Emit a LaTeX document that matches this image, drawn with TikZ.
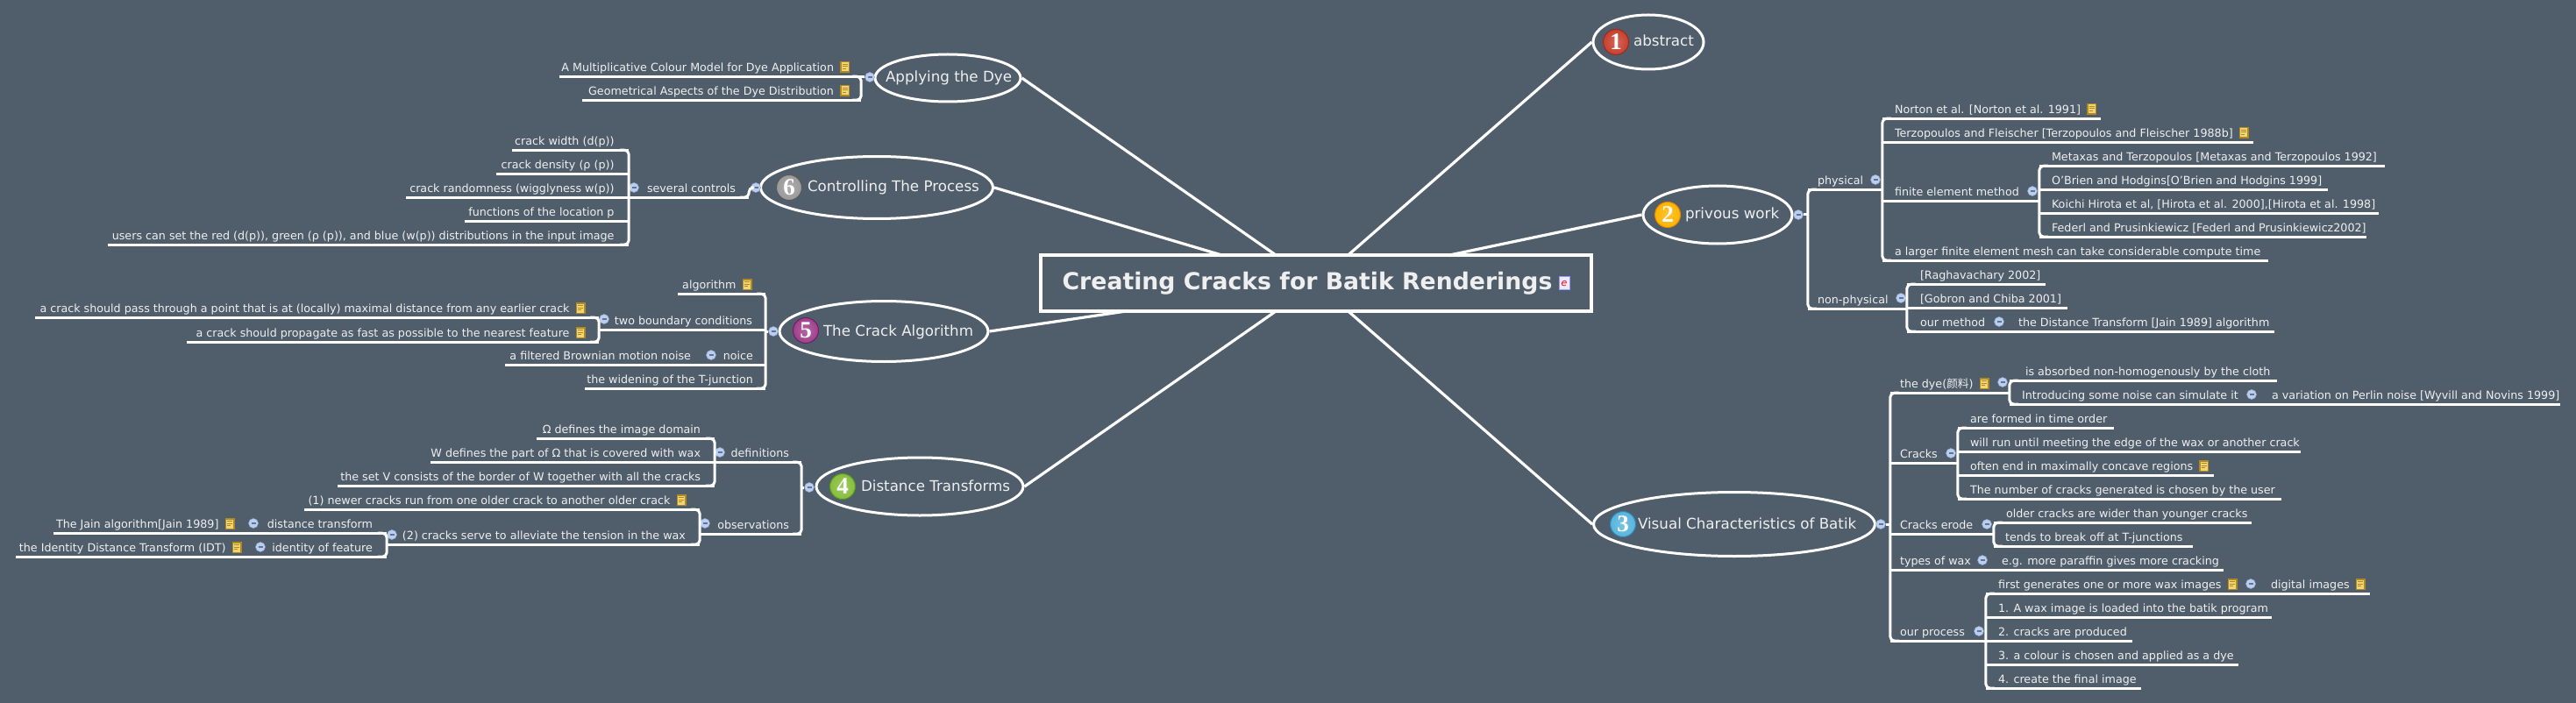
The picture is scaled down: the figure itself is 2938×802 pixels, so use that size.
\documentclass[tikz,border=0pt]{standalone}
\usepackage{fontspec}
\setmainfont{DejaVu Sans}
\newfontfamily\cjk{Noto Sans CJK SC}
\newfontfamily\numf{Liberation Serif}
\usetikzlibrary{shapes.geometric,calc,backgrounds}
\definecolor{bgc}{HTML}{505E6C}
\definecolor{txt}{HTML}{EFEFEF}
\definecolor{nb}{HTML}{B08A20}
\definecolor{ny}{HTML}{F2D675}
\definecolor{tgf}{HTML}{B9CEF2}
\definecolor{tgd}{HTML}{60758F}
\definecolor{ica}{HTML}{C8402F}\definecolor{icaD}{HTML}{9E2A1E}
\definecolor{icb}{HTML}{FFB400}\definecolor{icbD}{HTML}{E88A00}
\definecolor{icc}{HTML}{58B4DC}\definecolor{iccD}{HTML}{2E86B8}
\definecolor{icd}{HTML}{86BE3C}\definecolor{icdD}{HTML}{5A9420}
\definecolor{ice}{HTML}{A0408C}\definecolor{iceD}{HTML}{6E1F60}
\definecolor{icf}{HTML}{9A9A9A}\definecolor{icfD}{HTML}{5A5A5A}
\newcommand\noteic{\hspace{7pt}\raisebox{-1.5pt}{%
\rlap{\textcolor{nb}{\rule{11pt}{13pt}}}%
\rlap{\hspace{1.5pt}\raisebox{1.5pt}{\textcolor{ny}{\rule{8pt}{10pt}}}}%
\rlap{\hspace{2.5pt}\raisebox{9pt}{\textcolor{nb}{\rule{6pt}{1pt}}}}%
\rlap{\hspace{2.5pt}\raisebox{6.5pt}{\textcolor{nb}{\rule{6pt}{1pt}}}}%
\rlap{\hspace{2.5pt}\raisebox{4pt}{\textcolor{nb}{\rule{4pt}{1pt}}}}%
\hspace{11pt}}}
\tikzset{
 x=1pt,y=-1pt,
 tree/.style={draw=white,line width=3pt,line join=round},
 conn/.style={draw=white,line width=3.2pt},
 leaf/.style={inner xsep=0pt,inner ysep=5.5pt,text height=11pt,text depth=0pt,minimum height=22pt,text=txt,font=\fontsize{12.7}{15}\selectfont},
 topic/.style={ellipse,draw=white,line width=3pt,fill=bgc,inner sep=0pt,text=txt,text height=10pt,text depth=0pt,font=\fontsize{16.7}{18}\selectfont},
 numic/.style n args={2}{circle,inner sep=0pt,minimum size=29pt,draw=#2,line width=1pt,inner color=#1!80!white,outer color=#1,text=white,font=\numf\bfseries\fontsize{27}{27}\selectfont},
 tog/.style={circle,fill=tgf,draw=tgf!80!black,line width=.5pt,inner sep=0pt,minimum size=11pt,text=tgd},
 rootbox/.style={rectangle,draw=white,line width=4pt,fill=bgc,inner sep=0pt,minimum width=628pt,minimum height=64pt,text=txt,font=\bfseries\fontsize{26.7}{30}\selectfont},
 docic/.style={rectangle,draw=blue!40!white,fill=white!92!blue,line width=.8pt,inner sep=0pt,minimum width=12pt,minimum height=15pt,text=red,font=\itshape\fontsize{11}{11}\selectfont}
}
\newcommand\lfR[6]{\pgfmathsetmacro\cxx{(#2+#3)/2}\pgfmathsetmacro\www{#3-#2}%
 \node[leaf,minimum width=\www pt] (#1) at (\cxx,#4-11) {\makebox[\www pt][r]{#6\hspace*{#5pt}}};
 \draw[tree] (#1.south west)--(#1.south east);}
\newcommand\lfL[6]{\pgfmathsetmacro\cxx{(#2+#3)/2}\pgfmathsetmacro\www{#3-#2}%
 \node[leaf,minimum width=\www pt] (#1) at (\cxx,#4-11) {\makebox[\www pt][l]{\hspace*{#5pt}#6}};
 \draw[tree] (#1.south west)--(#1.south east);}
\newcommand\brR[2]{\draw[tree,rounded corners=5pt] ($(#1.south west)+(10,0)$)--(#1.south west)--(#2.south west)--($(#2.south west)+(10,0)$);}
\newcommand\brL[2]{\draw[tree,rounded corners=5pt] ($(#1.south east)+(-10,0)$)--(#1.south east)--(#2.south east)--($(#2.south east)+(-10,0)$);}
\newcommand\tgl[3]{\node[tog] (#1) at (#2,#3) {\rule{5pt}{1.2pt}};}
\begin{document}
\begin{tikzpicture}
\useasboundingbox (0,0) rectangle (2938,802);
% root and main topics
\node[rootbox] (root) at (1501,323) {\makebox[0pt]{\hspace{-20pt}Creating Cracks for Batik Renderings}};
\node[docic] (rootic) at (1784,323) {e};
\node[topic,minimum width=126pt,minimum height=62pt] (abstract) at (1880,48) {\makebox[0pt][l]{\hspace*{-17pt}abstract}};
\node[numic={ica}{icaD}] (ic1) at (1843,48) {1};
\node[topic,minimum width=170pt,minimum height=66pt] (privous) at (1959,245) {\makebox[0pt][l]{\hspace*{-37pt}privous work}};
\node[numic={icb}{icbD}] (ic2) at (1902,245) {2};
\node[topic,minimum width=321pt,minimum height=73pt] (visual) at (1978,598) {\makebox[0pt][l]{\hspace*{-110pt}Visual Characteristics of Batik}};
\node[numic={icc}{iccD}] (ic3) at (1851,598) {3};
\node[topic,minimum width=236pt,minimum height=66pt] (distance) at (1049,555) {\makebox[0pt][l]{\hspace*{-67pt}Distance Transforms}};
\node[numic={icd}{icdD}] (ic4) at (961,555) {4};
\node[topic,minimum width=238pt,minimum height=69pt] (crackalg) at (1008,378) {\makebox[0pt][l]{\hspace*{-69pt}The Crack Algorithm}};
\node[numic={ice}{iceD}] (ic5) at (919,377) {5};
\node[topic,minimum width=265pt,minimum height=71pt] (control) at (1000,214) {\makebox[0pt][l]{\hspace*{-79pt}Controlling The Process}};
\node[numic={icf}{icfD}] (ic6) at (900,214) {6};
\node[topic,minimum width=166pt,minimum height=54pt] (dye) at (1081,89) {\makebox[0pt][l]{\hspace*{-71pt}Applying the Dye}};
\begin{pgfonlayer}{background}
\fill[bgc] (0,0) rectangle (2938,802);
\foreach \n/\a in {abstract/west,privous/west,visual/west,distance/east,crackalg/east,control/east,dye/east}
  \draw[conn] (\n.\a)--(root.center);
\end{pgfonlayer}
% Applying the Dye
\lfR{ad1}{638}{982}{87}{13}{A Multiplicative Colour Model for Dye Application\noteic}
\lfR{ad2}{664}{982}{114}{13}{Geometrical Aspects of the Dye Distribution\noteic}
\brL{ad1}{ad2}
\tgl{tgad}{992}{88}
\draw[tree] (tgad.west)--(tgad.west -| ad1.south east);
% Controlling
\tgl{tgct}{862}{214}
\lfR{sev}{717}{854}{225}{15}{several controls}
\draw[tree,rounded corners=5pt] ($(sev.south east)+(-10,0)$)--(sev.south east)--(sev.south east |- tgct.west)--(tgct.west);
\tgl{tgsev}{723}{214}
\lfR{c1}{584}{717}{171}{16.5}{crack width (d(p))}
\lfR{c2}{566}{717}{198}{16.5}{crack density (ρ (p))}
\lfR{c3}{463}{717}{225}{16.5}{crack randomness (wigglyness w(p))}
\lfR{c4}{530}{717}{252}{16.5}{functions of the location p}
\lfR{c5}{123}{717}{279}{16.5}{users can set the red (d(p)), green (ρ (p)), and blue (w(p)) distributions in the input image}
\brL{c1}{c5}
% Crack Algorithm
\tgl{tgca}{882}{378}
\lfR{ca1}{773}{873}{335}{15.5}{algorithm\noteic}
\lfR{ca2}{683}{873}{376}{15}{two boundary conditions}
\lfR{ca3}{800}{873}{416}{14}{noice}
\lfR{ca4}{667}{873}{443}{14}{the widening of the T-junction}
\brL{ca1}{ca4}
\draw[tree] (tgca.west)--(tgca.west -| ca1.south east);
\tgl{tgcb}{689}{364}
\lfR{cb1}{40}{683}{362}{15.5}{a crack should pass through a point that is at (locally) maximal distance from any earlier crack\noteic}
\lfR{cb2}{213}{683}{390}{15.5}{a crack should propagate as fast as possible to the nearest feature\noteic}
\brL{cb1}{cb2}
\tgl{tgnoi}{811}{405}
\lfR{cn1}{576}{800}{416}{12}{a filtered Brownian motion noise}
% Distance Transforms
\tgl{tgdt}{923}{556}
\lfR{dt1}{815}{914}{527}{14}{definitions}
\lfR{dt2}{798}{914}{609}{14}{observations}
\brL{dt1}{dt2}
\draw[tree] (tgdt.west)--(tgdt.west -| dt1.south east);
\tgl{tgdef}{821}{516}
\lfR{df1}{612}{815}{500}{16}{Ω defines the image domain}
\lfR{df2}{491}{815}{527}{16}{W defines the part of Ω that is covered with wax}
\lfR{df3}{385}{815}{554}{16}{the set V consists of the border of W together with all the cracks}
\brL{df1}{df3}
\tgl{tgobs}{804}{597}
\lfR{ob1}{347}{798}{581}{15.5}{(1) newer cracks run from one older crack to another older crack\noteic}
\lfR{ob2}{441}{798}{621}{16}{(2) cracks serve to alleviate the tension in the wax}
\brL{ob1}{ob2}
\tgl{tgob2}{447}{610}
\lfR{tr1}{275}{441}{608}{16}{distance transform}
\lfR{tr2}{285}{441}{635}{16}{identity of feature}
\brL{tr1}{tr2}
\tgl{tgtr1}{289}{597}
\tgl{tgtr2}{297}{624}
\lfR{tj}{61}{275}{608}{7.5}{The Jain algorithm[Jain 1989]\noteic}
\lfR{ti}{18}{285}{635}{9.5}{the Identity Distance Transform (IDT)\noteic}
% privous work
\tgl{tgpw}{2051}{245}
\lfL{ph}{2062}{2147}{216}{11}{physical}
\lfL{np}{2062}{2175}{352}{11}{non-physical}
\brR{ph}{np}
\draw[tree] (tgpw.east)--(tgpw.east -| ph.south west);
\tgl{tgph}{2139}{205}
\lfL{p1}{2147}{2396}{135}{14}{Norton et al. [Norton et al. 1991]\noteic}
\lfL{p2}{2147}{2570}{162}{14}{Terzopoulos and Fleischer [Terzopoulos and Fleischer 1988b]\noteic}
\lfL{p3}{2147}{2326}{229}{14}{finite element method}
\lfL{p4}{2147}{2587}{297}{14}{a larger finite element mesh can take considerable compute time}
\brR{p1}{p4}
\tgl{tgfe}{2318}{218}
\lfL{f1}{2326}{2720}{189}{14}{Metaxas and Terzopoulos [Metaxas and Terzopoulos 1992]}
\lfL{f2}{2326}{2655}{216}{14}{O’Brien and Hodgins[O’Brien and Hodgins 1999]}
\lfL{f3}{2326}{2713}{243}{14}{Koichi Hirota et al, [Hirota et al. 2000],[Hirota et al. 1998]}
\lfL{f4}{2326}{2699}{270}{14}{Federl and Prusinkiewicz [Federl and Prusinkiewicz2002]}
\brR{f1}{f4}
\tgl{tgnp}{2168}{340}
\lfL{n1}{2175}{2333}{324}{15}{[Raghavachary 2002]}
\lfL{n2}{2175}{2358}{351}{15}{[Gobron and Chiba 2001]}
\lfL{n3}{2175}{2290}{378}{15}{our method}
\brR{n1}{n3}
\tgl{tgom}{2280}{367}
\lfL{n4}{2290}{2594}{378}{12}{the Distance Transform [Jain 1989] algorithm}
% Visual Characteristics
\tgl{tgvc}{2145}{598}
\lfL{v1}{2156}{2292}{448}{11}{the dye({\cjk 颜料})\noteic}
\lfL{v2}{2156}{2233}{528}{11}{Cracks}
\lfL{v3}{2156}{2274}{609}{11}{Cracks erode}
\lfL{v4}{2156}{2272}{650}{11}{types of wax}
\lfL{v5}{2156}{2265}{731}{11}{our process}
\brR{v1}{v5}
\draw[tree] (tgvc.east)--(tgvc.east -| v1.south west);
\tgl{tgv1}{2284}{436}
\lfL{d1}{2292}{2597}{434}{18}{is absorbed non-homogenously by the cloth}
\lfL{d2}{2292}{2580}{461}{14}{Introducing some noise can simulate it}
\brR{d1}{d2}
\tgl{tgd2}{2568}{450}
\lfL{d3}{2580}{2920}{461}{11}{a variation on Perlin noise [Wyvill and Novins 1999]}
\tgl{tgv2}{2225}{517}
\lfL{k1}{2233}{2411}{488}{14}{are formed in time order}
\lfL{k2}{2233}{2624}{515}{14}{will run until meeting the edge of the wax or another crack}
\lfL{k3}{2233}{2525}{542}{14}{often end in maximally concave regions\noteic}
\lfL{k4}{2233}{2602}{569}{14}{The number of cracks generated is chosen by the user}
\brR{k1}{k4}
\tgl{tgv3}{2266}{598}
\lfL{e1}{2274}{2568}{596}{14}{older cracks are wider than younger cracks}
\lfL{e2}{2274}{2501}{623}{13}{tends to break off at T-junctions}
\brR{e1}{e2}
\tgl{tgv4}{2261}{639}
\lfL{w1}{2272}{2536}{650}{11}{e.g. more paraffin gives more cracking}
\tgl{tgv5}{2257}{720}
\lfL{g0}{2265}{2578}{677}{14}{first generates one or more wax images\noteic}
\lfL{g1}{2265}{2591}{704}{14}{1. A wax image is loaded into the batik program}
\lfL{g2}{2265}{2432}{731}{14}{2. cracks are produced}
\lfL{g3}{2265}{2553}{758}{14}{3. a colour is chosen and applied as a dye}
\lfL{g4}{2265}{2442}{785}{14}{4. create the final image}
\brR{g0}{g4}
\tgl{tgg0}{2567}{666}
\lfL{g5}{2578}{2703}{677}{12}{digital images\noteic}
\end{tikzpicture}
\end{document}
